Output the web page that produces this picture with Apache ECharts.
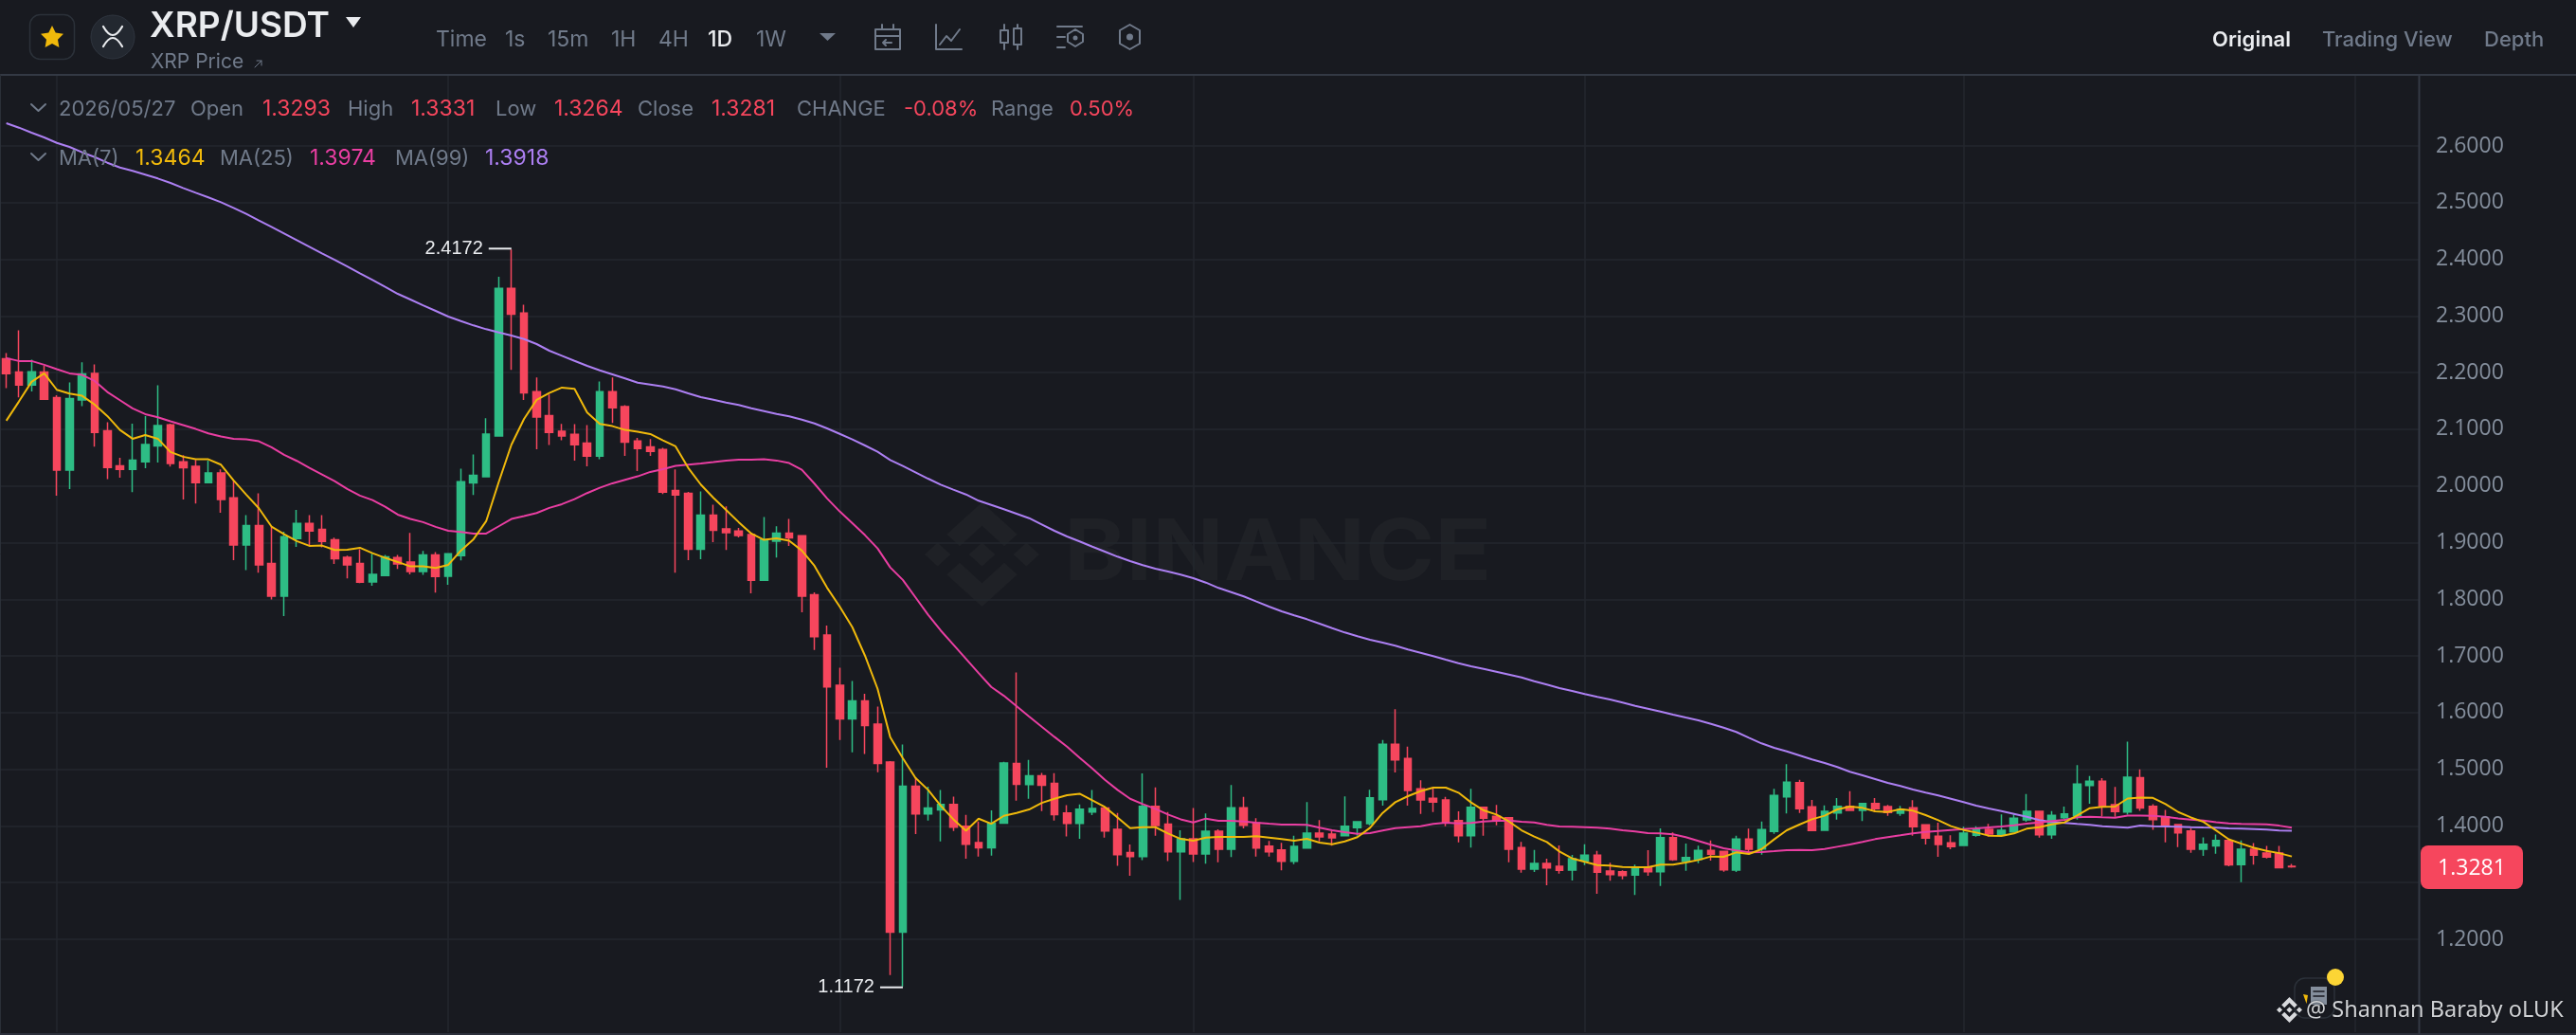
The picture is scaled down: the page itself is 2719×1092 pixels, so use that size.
<!DOCTYPE html>
<html><head><meta charset="utf-8"><title>XRP/USDT</title>
<style>html,body{margin:0;padding:0;background:#181a20}#c{width:2719px;height:1092px}</style>
<script src="https://cdn.jsdelivr.net/npm/echarts@6/dist/echarts.min.js"></script></head>
<body><div id="c"></div>
<script>
const firstDay = '2025-11-27';
const slotCount = 192;
const tickValues = [1.2,1.3,1.4,1.5,1.6,1.7,1.8,1.9,2.0,2.1,2.2,2.3,2.4,2.5,2.6];
const opens = [
2.2245,2.2010,2.1782,2.2010,2.1559,2.0283,2.1520,2.1988,2.0974,2.0355,
2.0294,2.0427,2.0706,2.1080,2.0427,2.0349,2.0060,2.0232,1.9792,1.8961,
1.9301,1.8633,1.8058,1.9073,1.9341,1.9235,1.9051,1.8744,1.8633,1.8309,
1.8421,1.8739,1.8660,1.8493,1.8783,1.8410,1.8772,2.0054,2.0165,2.0885,
2.3488,2.3053,2.1665,2.1241,2.0968,2.0912,2.0756,2.0528,2.1665,2.1403,
2.0795,2.0689,2.0645,1.9920,1.9870,1.8883,1.9485,1.9246,1.9207,1.9145,
1.8337,1.9028,1.9168,1.9123,1.8083,1.7370,1.6484,1.5893,1.6211,1.5798,
1.5129,1.2130,1.4706,1.4215,1.4287,1.4382,1.3998,1.3708,1.3619,1.4053,
1.5107,1.4733,1.4889,1.4756,1.4232,1.4048,1.4248,1.4321,1.3942,1.3535,
1.3463,1.4349,1.4037,1.3546,1.3775,1.3508,1.3910,1.3592,1.4322,1.4055,
1.3648,1.3581,1.3380,1.3614,1.3876,1.3859,1.3832,1.3971,1.4043,1.4467,
1.5442,1.5192,1.4657,1.4489,1.4461,1.4099,1.3832,1.4333,1.4172,1.4149,
1.3620,1.3241,1.3341,1.3291,1.3224,1.3386,1.3486,1.3207,1.3196,1.3135,
1.3263,1.3196,1.3798,1.3380,1.3414,1.3570,1.3553,1.3224,1.3770,1.3597,
1.3904,1.4517,1.4768,1.4339,1.3926,1.4233,1.4350,1.4277,1.4400,1.4344,
1.4227,1.4322,1.4021,1.3820,1.3703,1.3659,1.3837,1.3943,1.3848,1.3899,
1.4110,1.4261,1.3848,1.4149,1.4183,1.4718,1.4790,1.4378,1.4248,1.4855,
1.4348,1.4164,1.4025,1.3913,1.3590,1.3651,1.3746,1.3322,1.3590,1.3523,
1.3523,1.3293];
const closes = [
2.1983,2.1782,2.2016,2.1531,2.0283,2.1542,2.1977,2.0946,2.0327,2.0294,
2.0455,2.0734,2.1068,2.0400,2.0322,2.0060,2.0232,1.9764,1.8961,1.9301,
1.8610,1.8058,1.9106,1.9341,1.9207,1.9023,1.8716,1.8610,1.8304,1.8443,
1.8750,1.8627,1.8493,1.8783,1.8404,1.8805,2.0076,2.0188,2.0918,2.3488,
2.3031,2.1643,2.1219,2.0946,2.0885,2.0728,2.0528,2.1665,2.1381,2.0773,
2.0662,2.0611,1.9892,1.9842,1.8883,1.9485,1.9218,1.9179,1.9129,1.8337,
1.9051,1.9168,1.9084,1.8058,1.7342,1.6456,1.5893,1.6211,1.5776,1.5107,
1.2130,1.4706,1.4215,1.4321,1.4382,1.3981,1.3680,1.3619,1.4053,1.5112,
1.4739,1.4889,1.4722,1.4204,1.4048,1.4299,1.4310,1.3914,1.3496,1.3463,
1.4349,1.4009,1.3546,1.3775,1.3507,1.3910,1.3592,1.4322,1.4016,1.3614,
1.3547,1.3380,1.3642,1.3876,1.3809,1.3793,1.3999,1.4077,1.4500,1.5442,
1.5169,1.4629,1.4461,1.4422,1.4055,1.3832,1.4333,1.4138,1.4094,1.3592,
1.3241,1.3341,1.3263,1.3218,1.3425,1.3486,1.3185,1.3146,1.3129,1.3263,
1.3196,1.3798,1.3408,1.3447,1.3570,1.3503,1.3230,1.3770,1.3592,1.3937,
1.4540,1.4774,1.4305,1.3921,1.4261,1.4350,1.4277,1.4400,1.4305,1.4239,
1.4294,1.3988,1.3787,1.3676,1.3637,1.3876,1.3949,1.3859,1.3926,1.4138,
1.4261,1.3848,1.4188,1.4216,1.4740,1.4790,1.4350,1.4255,1.4861,1.4320,
1.4114,1.4008,1.3880,1.3590,1.3679,1.3746,1.3317,1.3590,1.3489,1.3456,
1.3266,1.3281];
const highs = [
2.2345,2.2746,2.2228,2.2122,2.1604,2.1827,2.2183,2.2144,2.1124,2.0500,
2.1102,2.1236,2.1776,2.1102,2.0544,2.0461,2.0450,2.0294,2.0099,1.9485,
1.9870,1.9290,1.9196,1.9580,1.9485,1.9485,1.9090,1.8772,1.8883,1.8805,
1.8783,1.8783,1.9173,1.8856,1.8833,1.8817,2.0305,2.0556,2.1197,2.3694,
2.4172,2.3198,2.1916,2.1615,2.1096,2.1091,2.1074,2.1843,2.1916,2.1425,
2.0851,2.0829,2.0673,2.0294,1.9898,1.9903,1.9669,1.9642,1.9262,1.9162,
1.9452,1.9290,1.9419,1.9129,1.8122,1.7537,1.6796,1.6562,1.6333,1.6110,
1.5146,1.5441,1.4862,1.4694,1.4639,1.4522,1.4198,1.4081,1.4276,1.5135,
1.6712,1.5168,1.4940,1.4934,1.4371,1.4382,1.4639,1.4332,1.4232,1.3674,
1.4928,1.4683,1.4248,1.3925,1.4321,1.4222,1.3943,1.4723,1.4517,1.4138,
1.3737,1.3703,1.3832,1.4422,1.4105,1.3915,1.4523,1.4077,1.4640,1.5521,
1.6061,1.5403,1.4807,1.4668,1.4517,1.4261,1.4657,1.4339,1.4372,1.4149,
1.3720,1.3581,1.3425,1.3659,1.3492,1.3681,1.3564,1.3352,1.3218,1.3319,
1.3575,1.3960,1.3887,1.3692,1.3653,1.3748,1.3553,1.3832,1.3954,1.4082,
1.4657,1.5091,1.4818,1.4461,1.4367,1.4495,1.4618,1.4400,1.4495,1.4372,
1.4356,1.4456,1.4021,1.4060,1.3837,1.3988,1.3999,1.4038,1.4205,1.4205,
1.4567,1.4261,1.4266,1.4344,1.5075,1.4885,1.4846,1.4690,1.5491,1.5000,
1.4387,1.4287,1.4025,1.3958,1.3802,1.3852,1.3757,1.3746,1.3701,1.3651,
1.3651,1.3331];
const lows = [
2.1726,2.1565,2.1670,2.1520,1.9831,1.9948,2.1408,2.0695,2.0121,2.0149,
1.9892,2.0316,2.0416,2.0344,1.9764,1.9692,2.0060,1.9530,1.8694,1.8516,
1.8471,1.7997,1.7707,1.8928,1.8956,1.8917,1.8627,1.8371,1.8287,1.8242,
1.8410,1.8538,1.8443,1.8432,1.8120,1.8259,1.8688,1.9842,2.0165,2.0873,
2.2049,2.1520,2.0650,2.0723,2.0806,2.0450,2.0349,2.0472,2.1113,2.0533,
2.0266,2.0533,1.9859,1.8471,1.8694,1.8711,1.9012,1.8872,1.9095,1.8109,
1.8326,1.8739,1.8945,1.7774,1.7108,1.5029,1.5519,1.5302,1.5274,1.4951,
1.1372,1.1172,1.3858,1.4098,1.3730,1.3914,1.3424,1.3463,1.3479,1.4048,
1.4449,1.4483,1.4265,1.4098,1.3819,1.3775,1.4193,1.3797,1.3301,1.3123,
1.3401,1.3830,1.3384,1.2699,1.3368,1.3336,1.3363,1.3453,1.3960,1.3464,
1.3464,1.3218,1.3330,1.3603,1.3731,1.3653,1.3832,1.3832,1.4016,1.4361,
1.4946,1.4361,1.4216,1.4250,1.3999,1.3715,1.3620,1.3832,1.4016,1.3363,
1.3180,1.3191,1.2957,1.3163,1.3040,1.3313,1.2806,1.3035,1.3062,1.2784,
1.3124,1.2945,1.3386,1.3213,1.3347,1.3391,1.3196,1.3191,1.3525,1.3497,
1.3865,1.4222,1.4233,1.3910,1.3926,1.4116,1.4266,1.4088,1.4250,1.4183,
1.4183,1.3832,1.3676,1.3458,1.3592,1.3653,1.3815,1.3815,1.3826,1.3899,
1.4077,1.3798,1.3776,1.4121,1.4116,1.4395,1.4177,1.4166,1.4203,1.4270,
1.3935,1.3712,1.3629,1.3528,1.3473,1.3512,1.3289,1.3010,1.3322,1.3428,
1.3266,1.3264];
const ma7 = [
2.1152,2.1492,2.1838,2.1988,2.1698,2.1631,2.1592,2.1436,2.1236,2.0990,
2.0834,2.0901,2.0834,2.0600,2.0517,2.0472,2.0472,2.0377,2.0098,1.9848,
1.9608,1.9285,1.9151,1.9028,1.8945,1.8950,1.8872,1.8878,1.8911,1.8816,
1.8733,1.8660,1.8582,1.8582,1.8554,1.8610,1.8861,1.9062,1.9379,2.0071,
2.0728,2.1185,2.1520,2.1642,2.1737,2.1715,2.1297,2.1096,2.1057,2.0990,
2.0957,2.0918,2.0806,2.0700,2.0321,2.0026,1.9792,1.9580,1.9363,1.9162,
1.9051,1.9078,1.9034,1.8861,1.8594,1.8206,1.7872,1.7509,1.7008,1.6422,
1.5569,1.5196,1.4850,1.4639,1.4360,1.4120,1.3919,1.4131,1.4042,1.4181,
1.4232,1.4293,1.4410,1.4483,1.4544,1.4572,1.4455,1.4337,1.4154,1.3964,
1.3981,1.3981,1.3869,1.3775,1.3741,1.3798,1.3809,1.3809,1.3809,1.3820,
1.3798,1.3770,1.3742,1.3776,1.3709,1.3681,1.3731,1.3804,1.3971,1.4233,
1.4422,1.4528,1.4617,1.4679,1.4679,1.4590,1.4417,1.4277,1.4205,1.4082,
1.3926,1.3815,1.3720,1.3553,1.3430,1.3369,1.3313,1.3302,1.3280,1.3274,
1.3274,1.3319,1.3319,1.3358,1.3402,1.3464,1.3458,1.3536,1.3508,1.3592,
1.3765,1.3926,1.4027,1.4121,1.4183,1.4294,1.4344,1.4322,1.4261,1.4250,
1.4300,1.4272,1.4194,1.4105,1.3999,1.3932,1.3887,1.3832,1.3826,1.3871,
1.3954,1.3982,1.4032,1.4066,1.4188,1.4317,1.4339,1.4344,1.4487,1.4504,
1.4498,1.4387,1.4248,1.4153,1.4075,1.3924,1.3768,1.3690,1.3618,1.3562,
1.3523,1.3464];
const ma25 = [
2.2256,2.2206,2.2206,2.2139,2.2061,2.1988,2.1960,2.1854,2.1659,2.1514,
2.1369,2.1269,2.1213,2.1141,2.1074,2.1007,2.0929,2.0873,2.0834,2.0823,
2.0790,2.0684,2.0550,2.0444,2.0321,2.0204,2.0087,1.9948,1.9831,1.9753,
1.9636,1.9496,1.9419,1.9363,1.9279,1.9212,1.9190,1.9162,1.9162,1.9290,
1.9419,1.9469,1.9524,1.9614,1.9680,1.9770,1.9876,1.9970,2.0048,2.0110,
2.0171,2.0249,2.0299,2.0355,2.0377,2.0399,2.0422,2.0450,2.0466,2.0466,
2.0472,2.0450,2.0405,2.0288,2.0043,1.9781,1.9552,1.9346,1.9134,1.8900,
1.8565,1.8343,1.8036,1.7729,1.7451,1.7203,1.6952,1.6701,1.6456,1.6300,
1.6116,1.5932,1.5753,1.5575,1.5402,1.5207,1.5018,1.4817,1.4639,1.4483,
1.4388,1.4304,1.4204,1.4120,1.4064,1.4133,1.4094,1.4094,1.4082,1.4060,
1.4043,1.4027,1.4027,1.4021,1.3971,1.3926,1.3893,1.3865,1.3876,1.3921,
1.3965,1.3982,1.3999,1.4038,1.4060,1.4049,1.4055,1.4082,1.4094,1.4099,
1.4077,1.4066,1.4021,1.3993,1.3988,1.3982,1.3971,1.3954,1.3926,1.3904,
1.3876,1.3871,1.3854,1.3804,1.3737,1.3670,1.3609,1.3570,1.3536,1.3542,
1.3558,1.3575,1.3581,1.3575,1.3597,1.3636,1.3675,1.3720,1.3770,1.3804,
1.3837,1.3871,1.3899,1.3915,1.3932,1.3949,1.3960,1.3977,1.3993,1.4016,
1.4043,1.4066,1.4088,1.4110,1.4155,1.4166,1.4155,1.4149,1.4186,1.4186,
1.4181,1.4164,1.4136,1.4114,1.4097,1.4069,1.4047,1.4041,1.4036,1.4030,
1.4008,1.3974];
const ma99 = [
2.6401,2.6323,2.6234,2.6150,2.6055,2.5983,2.5888,2.5804,2.5704,2.5620,
2.5560,2.5493,2.5426,2.5348,2.5259,2.5175,2.5092,2.5008,2.4908,2.4801,
2.4684,2.4573,2.4456,2.4339,2.4222,2.4105,2.3993,2.3876,2.3754,2.3637,
2.3513,2.3391,2.3291,2.3190,2.3090,2.2990,2.2911,2.2834,2.2767,2.2711,
2.2655,2.2593,2.2505,2.2388,2.2299,2.2209,2.2120,2.2042,2.1970,2.1898,
2.1824,2.1791,2.1757,2.1707,2.1635,2.1568,2.1523,2.1473,2.1430,2.1373,
2.1323,2.1272,2.1229,2.1172,2.1105,2.1017,2.0921,2.0821,2.0716,2.0604,
2.0460,2.0353,2.0242,2.0130,2.0025,1.9935,1.9851,1.9741,1.9667,1.9590,
1.9512,1.9433,1.9323,1.9211,1.9110,1.9022,1.8931,1.8843,1.8754,1.8676,
1.8604,1.8542,1.8492,1.8437,1.8375,1.8296,1.8202,1.8129,1.8052,1.7962,
1.7873,1.7789,1.7717,1.7650,1.7572,1.7493,1.7416,1.7350,1.7288,1.7238,
1.7182,1.7115,1.7059,1.6998,1.6936,1.6875,1.6819,1.6774,1.6724,1.6674,
1.6624,1.6557,1.6497,1.6435,1.6385,1.6329,1.6279,1.6234,1.6179,1.6122,
1.6072,1.6022,1.5967,1.5916,1.5866,1.5804,1.5737,1.5661,1.5560,1.5460,
1.5381,1.5319,1.5248,1.5176,1.5114,1.5042,1.4958,1.4897,1.4830,1.4763,
1.4707,1.4646,1.4590,1.4540,1.4483,1.4423,1.4361,1.4311,1.4266,1.4216,
1.4166,1.4105,1.4072,1.4055,1.4038,1.4022,1.3998,1.3985,1.3972,1.4010,
1.3998,1.3993,1.3988,1.3981,1.3976,1.3972,1.3960,1.3955,1.3948,1.3938,
1.3921,1.3918];

const GREEN='#2ebd85', RED='#f6465d', BG='#181a20', GRID='#23272e', EDGE='#333944', DIM='#707a8a', AXISTXT='#848e9c';
const CMA7='#f0b90b', CMA25='#e93ea2', CMA99='#ac7ff2';
const dates = Array.from({length:slotCount},(_,i)=>{const d=new Date(firstDay+'T00:00:00Z');d.setUTCDate(d.getUTCDate()+i);return d.toISOString().slice(0,10);});
const candles = opens.map((o,i)=>[o,closes[i],lows[i],highs[i]]);

const UI='Inter';
let shapeId=0;
function regPath(d){const name='sp'+(shapeId++);echarts.graphic.registerShape(name,echarts.graphic.extendPath(d,{}));return name;}
function T(x,y,text,fill,size,o){o=o||{};return {type:'text',silent:true,z:o.z||50,style:{x,y,text,fill,font:(o.w||'400')+' '+size+'px '+(o.f||UI),align:o.a||'left',verticalAlign:'middle',textShadowColor:o.sc,textShadowBlur:o.sb||0}};}
function P(d,st,z){return {type:regPath(d),silent:true,z:z||50,shape:{},style:st};}
function line(d,c,w){return P(d,{fill:'none',stroke:c,lineWidth:w||2,lineCap:'round',lineJoin:'round'});}
const LOGO_D='M38.73 53.2l24.59-24.58 24.6 24.6 14.3-14.31L63.32 0 24.43 38.9z M0 63.31l14.3-14.31 14.31 14.31-14.31 14.3z M38.73 73.41l24.59 24.59 24.6-24.6 14.31 14.29-38.9 38.91-38.91-38.88z M98 63.31l14.3-14.31 14.31 14.31-14.31 14.3z M77.83 63.3L63.32 48.78 48.81 63.28 63.32 77.78z';
function logo(x,y,w,h,fill,z){return {type:regPath(LOGO_D),silent:true,z:z,shape:{},x,y,scaleX:w/126.6,scaleY:h/126.6,style:{fill}};}

const legend1=[[62,'2026/05/27',DIM,22],[201,'Open',DIM,22],[277,'1.3293',RED,23],[367,'High',DIM,22],[434,'1.3331',RED,23],[523,'Low',DIM,22],[585,'1.3264',RED,23],[673,'Close',DIM,22],[751,'1.3281',RED,23],[841,'CHANGE',DIM,22],[954,'-0.08%',RED,22],[1046,'Range',DIM,22],[1129,'0.50%',RED,22]];
const legend2=[[62,'MA(7)',DIM,22],[143,'1.3464',CMA7,23],[232,'MA(25)',DIM,22],[327,'1.3974',CMA25,23],[417,'MA(99)',DIM,22],[512,'1.3918',CMA99,23]];
const periods=[[460,'Time',DIM],[533,'1s',DIM],[578,'15m',DIM],[645,'1H',DIM],[695,'4H',DIM],[747,'1D','#eaecef'],[798,'1W',DIM]];

const graphics=[
 // watermark
 {type:'text',silent:true,z:-1,x:1123,y:585,scaleX:1.1,style:{x:0,y:0,text:'BINANCE',fill:'#1f2126',font:'700 90px Inter',align:'left',verticalAlign:'middle'}},
 logo(976,530,121,110,'#1f2126',-1),
 // frame
 line('M0 79H2719',EDGE,2), line('M2553.5 79V1090',EDGE,2), line('M0 1091H2719',EDGE,1.5), line('M0.5 79V1090','#2b3038',1),
 // header
 {type:'rect',silent:true,z:50,shape:{x:31.5,y:15.5,width:47,height:47,r:11},style:{fill:'none',stroke:'#2b3139',lineWidth:1.5}},
 P('M55 27l3.7 7.6 8.3 1.2-6 5.9 1.4 8.3-7.4-3.9-7.4 3.9 1.4-8.3-6-5.9 8.3-1.2z',{fill:'#f0b90b'}),
 {type:'circle',silent:true,z:50,shape:{cx:119,cy:39,r:23},style:{fill:'#232830',stroke:'#2f353f',lineWidth:1}},
 line('M109 28c4 7 7 9 10 9s6-2 10-9',"#eaecef",2.2), line('M109 49c4-7 7-9 10-9s6 2 10 9',"#eaecef",2.2),
 T(158,27.5,'XRP/USDT','#eaecef',37,{w:'600'}),
 P('M365 18h16l-8 11z',{fill:'#eaecef'}),
 T(159,66,'XRP Price',DIM,21), line('M269 71l7-7m-5 0h5v5',DIM,1),
 ...periods.map(p=>T(p[0],42,p[1],p[2],23,{w:p[2]===DIM?'400':'500'})),
 P('M865 35h17l-8.5 8z',{fill:DIM}),
 line('M924 31h26v21h-26z M924 38h26 M931 26v5 M943 26v5 M941 45h-9m3-3l-3 3 3 3',DIM,2),
 line('M988 26v26h27 M992 47l7-9 5 5 9-12',DIM,2),
 line('M1060 26v6 M1060 45v7 M1074 26v4 M1074 47v5 M1056 32h8v13h-8z M1070 30h8v17h-8z',DIM,2),
 line('M1116 28h26 M1116 39h8 M1116 50h8 M1135 31l8 5v8l-8 5-8-5v-8z',DIM,2),
 {type:'circle',silent:true,z:50,shape:{cx:1135,cy:40,r:2.5},style:{fill:DIM}},
 line('M1192.5 26l10.5 6v14l-10.5 6-10.5-6V32z',DIM,2),
 {type:'circle',silent:true,z:50,shape:{cx:1192.5,cy:39,r:3.5},style:{fill:DIM}},
 T(2335,42,'Original','#eaecef',22,{w:'600'}),
 T(2451,42,'Trading View',DIM,22,{w:'500'}),
 T(2622,42,'Depth',DIM,22,{w:'500'}),
 // legend rows
 line('M33 110l7.5 7 7.5-7',DIM,2), line('M33 162l7.5 7 7.5-7',DIM,2),
 ...legend1.map(p=>T(p[0],115,p[1],p[2],p[3])),
 ...legend2.map(p=>T(p[0],167,p[1],p[2],p[3])),
 // price tag
 {type:'rect',silent:true,z:60,shape:{x:2555,y:892,width:108,height:46,r:8},style:{fill:RED}},
 T(2609,916,closes[closes.length-1].toFixed(4),'#ffffff',23,{a:'center',f:'Open Sans',w:'500',z:61}),
 // bottom-right widget & stamp
 {type:'rect',silent:true,z:50,shape:{x:2422,y:1032,width:42,height:42,r:11},style:{fill:'none',stroke:'#2b3139',lineWidth:1.5}},
 P('M2431 1049l5 1-1.5 9z',{fill:'#f0b90b'}),
 {type:'rect',silent:true,z:50,shape:{x:2439,y:1041,width:17,height:19},style:{fill:'#848e9c'}},
 line('M2442 1046h11 M2442 1051h11',BG,1.5),
 {type:'circle',silent:true,z:50,shape:{cx:2465,cy:1031,r:9},style:{fill:'#fcd535'}},
 logo(2403,1052,27,27,'#d8dadd',55),
 T(2434,1066,'@ Shannan Baraby oLUK','#d0d2d5',23.5,{f:'Noto Sans',z:55,sc:'rgba(0,0,0,.6)',sb:2}),
];

const chart=echarts.init(document.getElementById('c'),null,{renderer:'canvas'});
chart.setOption({
 backgroundColor:BG, animation:false,
 grid:[
  {left:0,top:154,width:2553,height:837},
  {left:-1,top:79,width:2560,height:1010}
 ],
 xAxis:[
  {gridIndex:0,type:'value',min:0,max:1,show:false},
  {gridIndex:1,type:'category',data:dates,boundaryGap:true,axisLine:{show:false},axisTick:{show:false},axisLabel:{show:false},
   splitLine:{show:true,alignWithLabel:true,interval:(i,v)=>v.slice(8)==='01',lineStyle:{color:GRID,width:1.5}}}
 ],
 yAxis:[
  {gridIndex:0,type:'value',position:'right',min:tickValues[0],max:tickValues[tickValues.length-1],interval:0.1,
   axisLine:{show:false},axisTick:{show:false},
   axisLabel:{margin:18,color:AXISTXT,fontSize:23,fontFamily:'Open Sans',formatter:v=>v.toFixed(4)},
   splitLine:{show:true,lineStyle:{color:GRID,width:1.5}}},
  {gridIndex:1,type:'value',min:1.03645,max:2.72542,show:false,splitLine:{show:false}}
 ],
 series:[
  {type:'candlestick',xAxisIndex:1,yAxisIndex:1,data:candles,barWidth:8.2,z:3,
   itemStyle:{color:GREEN,color0:RED,borderColor:GREEN,borderColor0:RED,borderWidth:1.5},
   markPoint:{silent:true,animation:false,z:10,
     data:[
      {coord:[dates[40],highs[40]],symbol:'rect',symbolSize:[24,2],symbolOffset:[-12,-1],itemStyle:{color:'#eaecef'},
       label:{show:true,position:'left',distance:6,formatter:highs[40].toFixed(4),color:'#eaecef',fontSize:20,fontFamily:'Liberation Sans'}},
      {coord:[dates[71],lows[71]],symbol:'rect',symbolSize:[24,2],symbolOffset:[-12,1],itemStyle:{color:'#eaecef'},
       label:{show:true,position:'left',distance:6,formatter:lows[71].toFixed(4),color:'#eaecef',fontSize:20,fontFamily:'Liberation Sans'}}
     ]}},
  {type:'line',name:'MA(99)',xAxisIndex:1,yAxisIndex:1,data:ma99,showSymbol:false,symbol:'none',lineStyle:{color:CMA99,width:2},z:4},
  {type:'line',name:'MA(25)',xAxisIndex:1,yAxisIndex:1,data:ma25,showSymbol:false,symbol:'none',lineStyle:{color:CMA25,width:2},z:5},
  {type:'line',name:'MA(7)',xAxisIndex:1,yAxisIndex:1,data:ma7,showSymbol:false,symbol:'none',lineStyle:{color:CMA7,width:2},z:6}
 ],
 graphic:{elements:graphics}
});
</script></body></html>
